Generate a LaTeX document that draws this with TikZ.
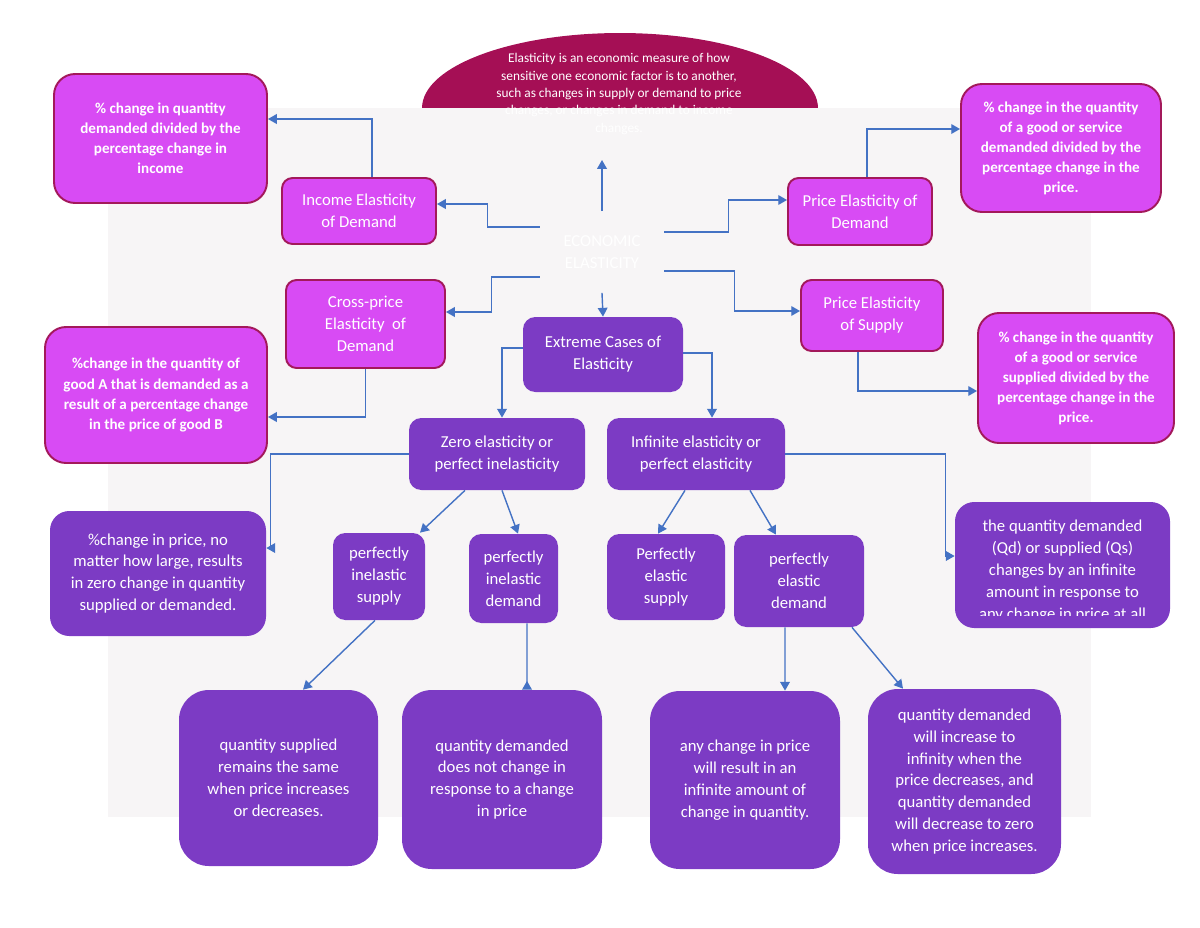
\documentclass[tikz,border=0pt]{standalone}
\usepackage{fontspec}
\setmainfont{Carlito}
\usepackage{tikz}
\usetikzlibrary{arrows.meta, calc, shapes.geometric}
\usepackage{xcolor}

\definecolor{pageGray}{HTML}{F7F5F6}
\definecolor{defRed}{HTML}{A50F55}
\definecolor{pinkFill}{HTML}{D84BF4}
\definecolor{pinkEdge}{HTML}{A3195B}
\definecolor{violet}{HTML}{7C3BC4}
\definecolor{lineBlue}{HTML}{4472C4}

\tikzset{
  boxdim/.style 2 args={minimum width=#1*0.02cm, minimum height=#2*0.02cm, inner sep=0pt},
  pinkbox/.style={draw=pinkEdge, line width=1.1pt, fill=pinkFill, rounded corners=6pt,
    text=white, align=center, font=\fontsize{9.5}{12.5}\selectfont},
  pinkdesc/.style={pinkbox, rounded corners=12pt, font=\bfseries\fontsize{8.6}{11.4}\selectfont},
  violetbox/.style={fill=violet, rounded corners=7pt, text=white, align=center,
    font=\fontsize{9.5}{12.5}\selectfont},
  violetdesc/.style={violetbox, rounded corners=11pt},
  violetbig/.style={violetbox, rounded corners=17pt},
  conn/.style={draw=lineBlue, line width=0.8pt, -{Triangle[length=5pt, width=5.5pt]}},
  connback/.style={draw=lineBlue, line width=0.8pt, -{Triangle[length=5pt, width=5.5pt, reversed]}}
}

\begin{document}
\begin{tikzpicture}[x=0.02cm, y=-0.02cm]
        \useasboundingbox (0,0) rectangle (1200,927);

        % Definition Ellipse and Page Background
        \fill[defRed] (620,108) ellipse [x radius=3.96cm, y radius=1.5cm];
        \fill[pageGray] (108,108) rectangle (1091,817);
        \node[text=white, align=center, font=\fontsize{7.6}{9.9}\selectfont] (def) at (619,94)
          {Elasticity is an economic measure of how\\
           sensitive one economic factor is to another,\\
           such as changes in supply or demand to price\\
           changes, or changes in demand to income\\
           changes.};
        \coordinate (defTip) at (602,160);

        % Centre
        \node[boxdim={124}{81}, text=white, align=center, font=\fontsize{9.5}{12.5}\selectfont] (econ) at (602,252)
          {ECONOMIC\\ELASTICITY};

        % Elasticity Types
        \node[pinkbox, boxdim={154}{66}] (income) at (359,211) {Income Elasticity\\of Demand};
        \node[pinkbox, boxdim={159}{88}] (cross) at (365.5,324) {Cross-price\\Elasticity \ of\\Demand};
        \node[pinkbox, boxdim={144}{67}] (ped) at (860,211.5) {Price Elasticity of\\Demand};
        \node[pinkbox, boxdim={142}{71}] (pes) at (872,315.5) {Price Elasticity\\of Supply};

        % Type Definitions
        \node[pinkdesc, boxdim={213}{129}] (incomeDef) at (160.5,138.5)
          {\% change in quantity\\demanded divided by the\\percentage change in\\income};
        \node[pinkdesc, boxdim={222}{136}] (crossDef) at (156,395)
          {\%change in the quantity of\\good A that is demanded as a\\result of a percentage change\\in the price of good B};
        \node[pinkdesc, boxdim={200}{128}] (pedDef) at (1061,148)
          {\% change in the quantity\\of a good or service\\demanded divided by the\\percentage change in the\\price.};
        \node[pinkdesc, boxdim={196}{130}] (pesDef) at (1076,378)
          {\% change in the quantity\\of a good or service\\supplied divided by the\\percentage change in the\\price.};

        % Extreme Cases
        \node[violetbox, boxdim={160}{75}] (extreme) at (603,354.5) {Extreme Cases of\\Elasticity};
        \node[violetbox, boxdim={176}{72}] (zero) at (497,454) {Zero elasticity or\\perfect inelasticity};
        \node[violetbox, boxdim={178}{72}] (inf) at (696,454) {Infinite elasticity or\\perfect elasticity};
        \node[violetdesc, boxdim={216}{125}] (zeroDef) at (158,573.5)
          {\%change in price, no\\matter how large, results\\in zero change in quantity\\supplied or demanded.};
        \node[violetdesc, boxdim={215}{126}] (infDef) at (1062.5,565) {};
        \begin{scope}
          \clip (infDef.north west) rectangle ([yshift=0.26cm]infDef.south east);
          \node[text=white, align=center, font=\fontsize{9.5}{12.5}\selectfont] at ([yshift=-0.12cm]infDef.center)
            {the quantity demanded\\(Qd) or supplied (Qs)\\changes by an infinite\\amount in response to\\any change in price at all};
        \end{scope}

        \node[violetbox, boxdim={92}{87}] (pis) at (379,576.5) {perfectly\\inelastic\\supply};
        \node[violetbox, boxdim={89}{89}] (pid) at (513.5,578.5) {perfectly\\inelastic\\demand};
        \node[violetbox, boxdim={118}{86}] (pesu) at (666,577) {Perfectly\\elastic\\supply};
        \node[violetbox, boxdim={130}{92}] (pedm) at (799,581) {perfectly\\elastic\\demand};

        % Outcomes
        \node[violetbig, boxdim={199}{176}] (pisOut) at (278.5,778)
          {quantity supplied\\remains the same\\when price increases\\or decreases.};
        \node[violetbig, boxdim={200}{179}] (pidOut) at (502,779.5)
          {quantity demanded\\does not change in\\response to a change\\in price};
        \node[violetbig, boxdim={190}{178}] (pedOut) at (745,780)
          {any change in price\\will result in an\\infinite amount of\\change in quantity.};
        \node[violetbig, boxdim={193}{185}] (pedOut2) at (964.5,781.5)
          {quantity demanded\\will increase to\\infinity when the\\price decreases, and\\quantity demanded\\will decrease to zero\\when price increases.};

        % Connectors from Centre
        \draw[conn] (econ.north) -- (defTip);
        \draw[conn] ([yshift=0.5cm]econ.west) -- ++(-52,0) |- ([yshift=0.14cm]income.east);
        \draw[conn] ([yshift=-0.5cm]econ.west) -- ++(-48,0) |- ([yshift=0.24cm]cross.east);
        \draw[conn] ([yshift=0.4cm]econ.east) -- ++(64,0) |- ([yshift=0.23cm]ped.west);
        \draw[conn] ([yshift=-0.38cm]econ.east) -- ++(70,0) |- ([yshift=0.09cm]pes.west);
        \draw[conn] (econ.south) -- (extreme.north);

        % Connectors to Definitions
        \draw[conn] ([xshift=0.26cm]income.north) |- ([yshift=0.39cm]incomeDef.east);
        \draw[conn] (cross.south) |- ([yshift=-0.44cm]crossDef.east);
        \draw[conn] ([xshift=0.14cm]ped.north) |- ([yshift=0.38cm]pedDef.west);
        \draw[conn] ([xshift=-0.28cm]pes.south) |- ([yshift=-0.26cm]pesDef.west);

        % Connectors for Extreme Cases
        \draw[conn] ([yshift=0.13cm]extreme.west) -| ([xshift=0.1cm]zero.north);
        \draw[conn] ([yshift=0.03cm]extreme.east) -| ([xshift=0.32cm]inf.north);
        \draw[conn] (zero.west) -- ++(-138,0) |- ([yshift=0.51cm]zeroDef.east);
        \draw[conn] (inf.east) -- ++(160,0) |- ([yshift=0.18cm]infDef.west);
        \draw[conn] ([xshift=-0.64cm]zero.south) -- ([xshift=0.82cm]pis.north);
        \draw[conn] ([xshift=0.1cm]zero.south) -- ([xshift=0.09cm]pid.north);
        \draw[conn] ([xshift=-0.22cm]inf.south) -- ([xshift=-0.16cm]pesu.north);
        \draw[conn] ([xshift=1.08cm]inf.south) -- ([xshift=-0.46cm]pedm.north);

        % Connectors to Outcomes
        \draw[conn] ([xshift=-0.08cm]pis.south) -- ([xshift=0.49cm]pisOut.north);
        \draw[connback] ([xshift=0.27cm]pid.south) -- ([xshift=0.5cm]pidOut.north);
        \draw[conn] ([xshift=-0.28cm]pedm.south) -- ([xshift=0.8cm]pedOut.north);
        \draw[conn] ([xshift=1.06cm]pedm.south) -- ([xshift=-1.23cm]pedOut2.north);

    \end{tikzpicture}
\end{document}
